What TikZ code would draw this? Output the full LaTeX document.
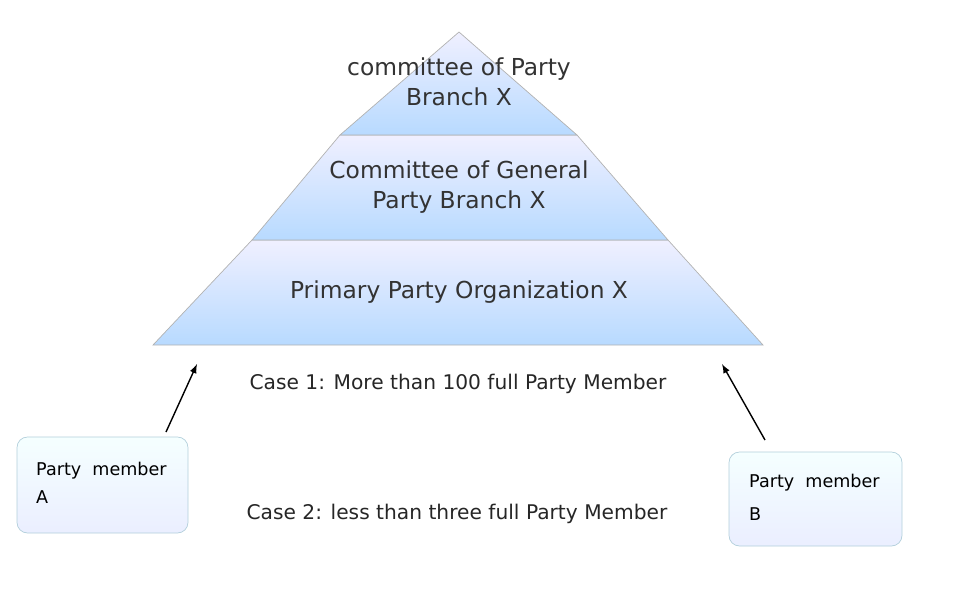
\documentclass[tikz,border=0pt]{standalone}
\usepackage{fontspec}
\setmainfont{DejaVu Sans}
\begin{document}
\begin{tikzpicture}[x=0.02cm,y=-0.02cm,
 tier/.style={draw=gray!60,top color=blue!6!white,bottom color=blue!25!cyan!20!white!90!blue},
 ttext/.style={font=\fontsize{13.3}{17}\selectfont,align=center,text=black!80},
 ctext/.style={font=\fontsize{11.5}{14}\selectfont,text=black!85},
 box/.style={draw=cyan!40!gray!50,rounded corners=6pt,top color=cyan!4!white,bottom color=cyan!18!blue!8!white},
 btext/.style={font=\fontsize{10}{13}\selectfont,align=left,anchor=north west}]
\useasboundingbox (0,0) rectangle (970,593);
\path[tier] (153,345) -- (252,240) -- (668,240) -- (763,345) -- cycle;
\path[tier] (252,240) -- (340,135) -- (577,135) -- (668,240) -- cycle;
\path[tier] (340,135) -- (459,32) -- (577,135) -- cycle;
\node[ttext] (t1) at (459,82) {committee of Party\\Branch X};
\node[ttext] (t2) at (459,187) {Committee of General\\Party Branch X};
\node[ttext] (t3) at (459,292) {Primary Party Organization X};
\node[ctext] (c1) at (458,384) {Case 1: More than 100 full Party Member};
\node[ctext] (c2) at (457,514) {Case 2: less than three full Party Member};
\path[box] (17,437) rectangle (188,533);
\path[box] (729,452) rectangle (902,546);
\node[btext] (a) at (30,456) {Party\ \ member\\[3pt]A};
\node[btext] (b) at (743,468) {Party\ \ member\\[6pt]B};
\coordinate (a1) at (166,432); \coordinate (a2) at (197,364);
\coordinate (b1) at (765,440); \coordinate (b2) at (722,364);
\draw[-latex,thick] (a1) -- (a2);
\draw[-latex,thick] (b1) -- (b2);
\end{tikzpicture}
\end{document}
